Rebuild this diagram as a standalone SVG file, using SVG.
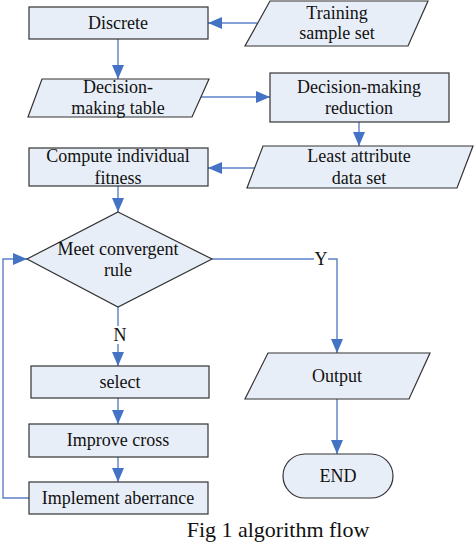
<svg xmlns="http://www.w3.org/2000/svg" width="474" height="544" viewBox="0 0 474 544">
<defs>
<style>
.s{fill:#e8eef7;stroke:#333;stroke-width:1.2}
.c{fill:none;stroke:#5b80c8;stroke-width:1.4}
text{font-family:"Liberation Serif","Times New Roman",serif;font-size:18px;fill:#111;text-anchor:middle}
.cap{font-size:22px}
</style>
<marker id="a" viewBox="0 0 14 12" refX="14" refY="6" markerWidth="14" markerHeight="12" markerUnits="userSpaceOnUse" orient="auto">
<path d="M0,0 L14,6 L0,12 Z" fill="#4472c4"/>
</marker>
</defs>
<rect width="474" height="544" fill="#fff"/>
<g id="connectors">
<path class="c" d="M257,23 H208" marker-end="url(#a)"/>
<path class="c" d="M118,39 V79" marker-end="url(#a)"/>
<path class="c" d="M201,97 H270" marker-end="url(#a)"/>
<path class="c" d="M359,122 V146" marker-end="url(#a)"/>
<path class="c" d="M255,168 H208" marker-end="url(#a)"/>
<path class="c" d="M118,186 V212" marker-end="url(#a)"/>
<path class="c" d="M212,259 H314 M328,259 H337 V353" marker-end="url(#a)"/>
<path class="c" d="M118,307 V326 M118,344 V366" marker-end="url(#a)"/>
<path class="c" d="M118,398 V424" marker-end="url(#a)"/>
<path class="c" d="M118,457 V482" marker-end="url(#a)"/>
<path class="c" d="M29,498 H3 V259 H27" marker-end="url(#a)"/>
<path class="c" d="M337,399 V454" marker-end="url(#a)"/>
<text x="321" y="265">Y</text>
<text x="120" y="341">N</text>
</g>
<g id="discrete">
<rect class="s" x="29" y="7" width="179" height="32"/>
<text x="118" y="29">Discrete</text>
</g>
<g id="training">
<polygon class="s" points="270,1 428,1 408,46 245,46"/>
<text x="337" y="19">Training</text>
<text x="337" y="39">sample set</text>
</g>
<g id="table">
<polygon class="s" points="42,79 209,79 192,117 28,117"/>
<text x="118" y="93">Decision-</text>
<text x="118" y="114">making table</text>
</g>
<g id="reduction">
<rect class="s" x="270" y="73" width="179" height="49"/>
<text x="359" y="93">Decision-making</text>
<text x="359" y="114">reduction</text>
</g>
<g id="least">
<polygon class="s" points="263,146 473,146 457,188 247,188"/>
<text x="359" y="162">Least attribute</text>
<text x="359" y="184">data set</text>
</g>
<g id="compute">
<rect class="s" x="29" y="148" width="179" height="38"/>
<text x="118" y="162">Compute individual</text>
<text x="118" y="184">fitness</text>
</g>
<g id="meet">
<polygon class="s" points="118,212 212,259 118,307 27,259"/>
<text x="118" y="255">Meet convergent</text>
<text x="118" y="276">rule</text>
</g>
<g id="select">
<rect class="s" x="31" y="366" width="178" height="32"/>
<text x="120" y="388">select</text>
</g>
<g id="cross">
<rect class="s" x="29" y="424" width="179" height="33"/>
<text x="118" y="446">Improve cross</text>
</g>
<g id="aberrance">
<rect class="s" x="29" y="482" width="179" height="32"/>
<text x="118" y="504">Implement aberrance</text>
</g>
<g id="output">
<polygon class="s" points="268,353 430,353 409,399 245,399"/>
<text x="337" y="382">Output</text>
</g>
<g id="end">
<rect class="s" x="283" y="454" width="110" height="44" rx="22" ry="22"/>
<text x="338" y="482">END</text>
</g>
<text class="cap" x="278" y="537">Fig 1 algorithm flow</text>
</svg>
